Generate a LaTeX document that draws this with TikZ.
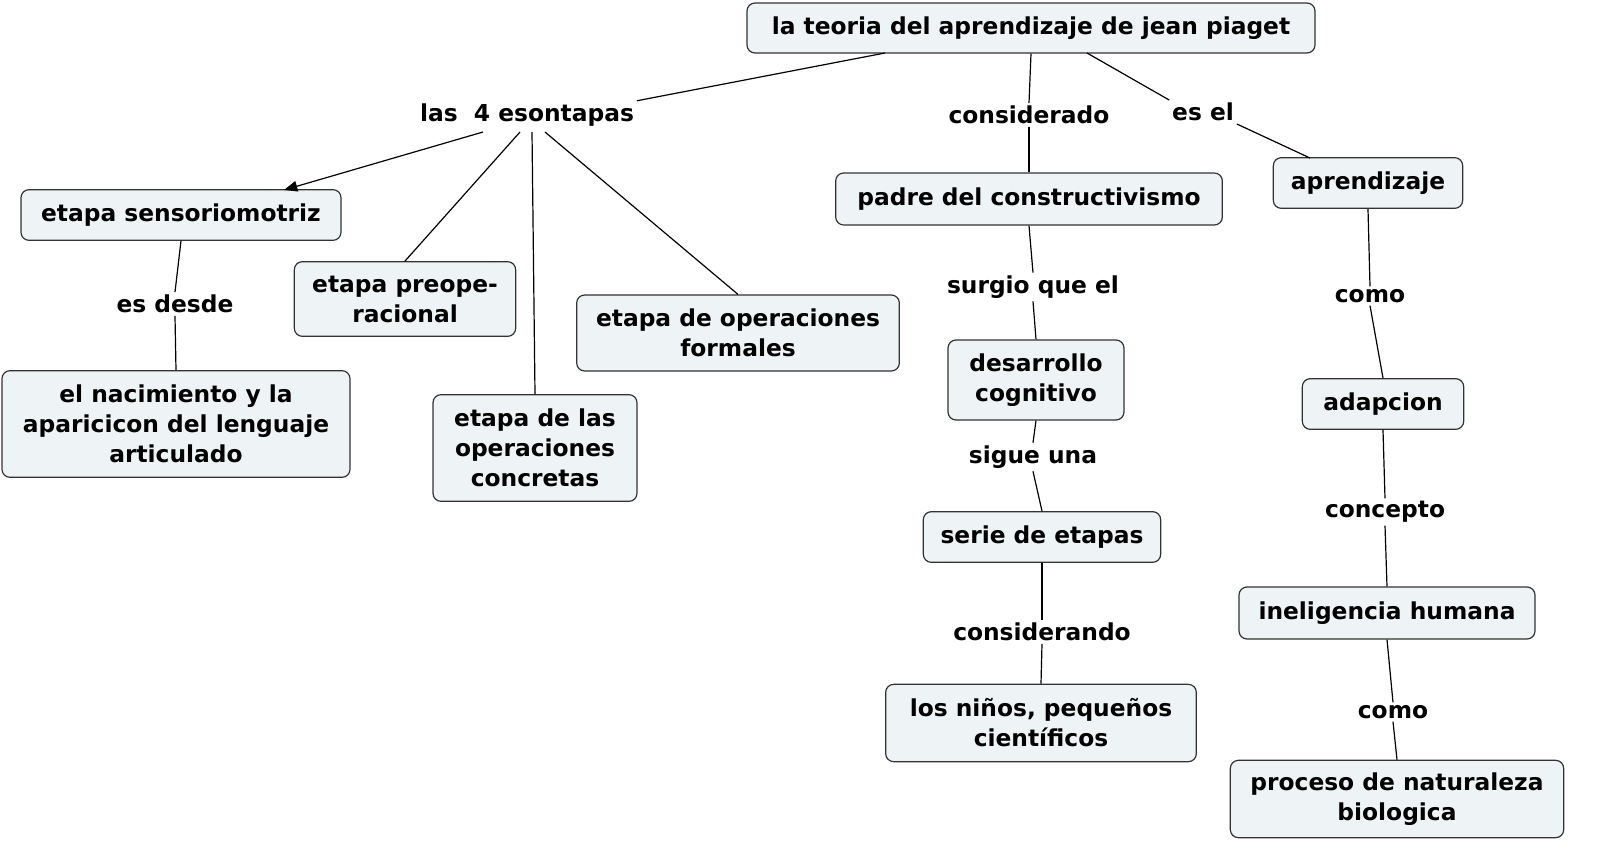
\documentclass[tikz,border=0pt]{standalone}
\usepackage{fontspec}
\setmainfont{DejaVu Sans}
\usetikzlibrary{arrows.meta}
\definecolor{boxfill}{HTML}{EEF3F5}
\definecolor{boxline}{HTML}{333333}
\begin{document}
\begin{tikzpicture}[x=0.75pt,y=-0.75pt,
  every node/.style={font=\bfseries\fontsize{17.5}{22.5}\selectfont, align=center, inner sep=0pt},
  cbox/.style={draw=boxline, fill=boxfill, rounded corners=6pt, line width=0.9pt},
  lbl/.style={fill=white, inner sep=2pt},
  conn/.style={line width=0.9pt, black}]
\useasboundingbox (0,0) rectangle (1600,860);
\clip (0,0) rectangle (1600,860);
\node[cbox, minimum width=426pt, minimum height=37.5pt] (top) at (1031,28) {la teoria del aprendizaje de jean piaget};
\node[lbl] (las) at (527,115) {las\ \ 4 esontapas};
\node[lbl] (cons) at (1029,115) {considerado};
\node[lbl] (esel) at (1203,112) {es el};
\node[cbox, minimum width=240pt, minimum height=38pt] (sens) at (181,215) {etapa sensoriomotriz};
\node[cbox, minimum width=166pt, minimum height=56pt] (preo) at (405,299) {etapa preope-\\racional};
\node[cbox, minimum width=153pt, minimum height=80pt] (conc) at (535,448) {etapa de las\\operaciones\\concretas};
\node[cbox, minimum width=242pt, minimum height=57pt] (form) at (738,333) {etapa de operaciones\\formales};
\node[lbl] (desde) at (175,304) {es desde};
\node[cbox, minimum width=261pt, minimum height=80pt] (naci) at (176,424) {el nacimiento y la\\aparicicon del lenguaje\\articulado};
\node[cbox, minimum width=290pt, minimum height=39pt] (padre) at (1029,199) {padre del constructivismo};
\node[lbl] (surg) at (1033,287) {surgio que el};
\node[cbox, minimum width=132pt, minimum height=60pt] (desa) at (1036,380) {desarrollo\\cognitivo};
\node[lbl] (sigue) at (1033,457) {sigue una};
\node[cbox, minimum width=178pt, minimum height=38pt] (serie) at (1042,537) {serie de etapas};
\node[lbl] (consd) at (1042,632) {considerando};
\node[cbox, minimum width=233pt, minimum height=58pt] (ninos) at (1041,723) {los niños, pequeños\\científicos};
\node[cbox, minimum width=142pt, minimum height=38pt] (apre) at (1368,183) {aprendizaje};
\node[lbl] (como1) at (1370,296) {como};
\node[cbox, minimum width=121pt, minimum height=38pt] (adap) at (1383,404) {adapcion};
\node[lbl] (conce) at (1385,512) {concepto};
\node[cbox, minimum width=222pt, minimum height=39pt] (inel) at (1387,613) {ineligencia humana};
\node[lbl] (como2) at (1393,712) {como};
\node[cbox, minimum width=250pt, minimum height=58pt] (proc) at (1397,799) {proceso de naturaleza\\biologica};
\draw[conn] (885,53) -- (las.north east);
\draw[conn, -{Triangle[length=10pt,width=8pt]}] (483,132) -- (284,190);
\draw[conn] (520,132) -- (preo.north);
\draw[conn] (532,132) -- (conc.north);
\draw[conn] (545,132) -- (form.north);
\draw[conn] (top.south) -- (cons.north);
\draw[conn] (cons.south) -- (padre.north);
\draw[conn] (1087,53) -- (esel.north west);
\draw[conn] (esel.south east) -- (1310,158);
\draw[conn] (sens.south) -- (desde.north);
\draw[conn] (desde.south) -- (naci.north);
\draw[conn] (padre.south) -- (surg.north);
\draw[conn] (surg.south) -- (desa.north);
\draw[conn] (desa.south) -- (sigue.north);
\draw[conn] (sigue.south) -- (serie.north);
\draw[conn] (serie.south) -- (consd.north);
\draw[conn] (consd.south) -- (ninos.north);
\draw[conn] (apre.south) -- (como1.north);
\draw[conn] (como1.south) -- (adap.north);
\draw[conn] (adap.south) -- (conce.north);
\draw[conn] (conce.south) -- (inel.north);
\draw[conn] (inel.south) -- (como2.north);
\draw[conn] (como2.south) -- (proc.north);
\end{tikzpicture}
\end{document}
